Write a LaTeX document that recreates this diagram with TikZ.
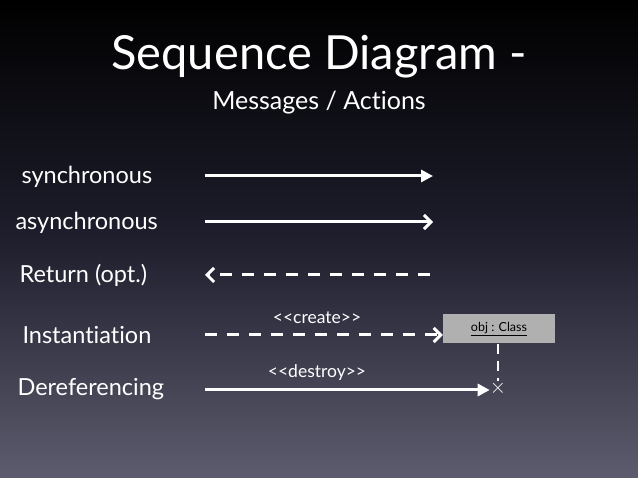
\documentclass[tikz,border=0pt]{standalone}
\usepackage{fontspec}
\setmainfont{Lato}[Ligatures=NoCommon]
\usetikzlibrary{arrows.meta}
\begin{document}
\begin{tikzpicture}[x=1pt,y=-1pt,
  msg/.style={draw=white,line width=3pt},
  dsh/.style={msg,dash pattern=on 12pt off 10pt},
  filled/.style={-{Triangle[length=12pt,width=12pt]}},
  open/.style={-{Straight Barb[length=7pt,width=14pt,line width=3pt]}},
  lbl/.style={text=white,font=\fontsize{23.5}{26}\selectfont,anchor=west},
  small/.style={text=white,font=\fontsize{17.5}{20}\selectfont}]
\shade[top color=black,bottom color={rgb,255:red,92;green,92;blue,110},middle color={rgb,255:red,30;green,30;blue,45}] (0,0) rectangle (638,478);
\useasboundingbox (0,0) rectangle (638,478);
\node[text=white,font=\fontsize{47}{50}\selectfont] (title) at (319,57) {Sequence Diagram -};
\node[text=white,font=\fontsize{25}{28}\selectfont] (sub) at (319,103) {Messages / Actions};
\node[lbl] (l1) at (18,177) {synchronous};
\node[lbl] (l2) at (12,223) {asynchronous};
\node[lbl] (l3) at (16,275) {Return (opt.)};
\node[lbl] (l4) at (19,335) {Instantiation};
\node[lbl] (l5) at (14,389) {Dereferencing};
\coordinate (s1) at (205,176); \coordinate (e1) at (433,176);
\coordinate (s2) at (205,222); \coordinate (e2) at (433,222);
\coordinate (s3) at (430,275); \coordinate (e3) at (205,275);
\coordinate (s4) at (205,335);
\coordinate (s5) at (205,390);
\node[draw=none,fill={rgb,255:red,176;green,176;blue,176},minimum width=112pt,minimum height=29pt,inner sep=0pt,font=\fontsize{12.5}{14}\selectfont] (obj) at (499,329) {\underline{obj : Class}};
\node[text=white,inner sep=0pt,font=\fontsize{22}{22}\selectfont] (x) at (498,388) {$\times$};
\draw[msg,filled] (s1) -- (e1);
\draw[msg,open] (s2) -- (e2);
\draw[dsh,open] (s3) -- (e3);
\draw[dsh,open] (s4) -- (obj.west |- s4);
\draw[msg,filled] (s5) -- (x.west |- s5);
\draw[draw=white,line width=2pt,dash pattern=on 10pt off 7pt] (obj.south -| x) -- (x.north);
\node[small] (c) at (317,318) {<{}<create>{}>};
\node[small] (d) at (317,373) {<{}<destroy>{}>};
\end{tikzpicture}
\end{document}
